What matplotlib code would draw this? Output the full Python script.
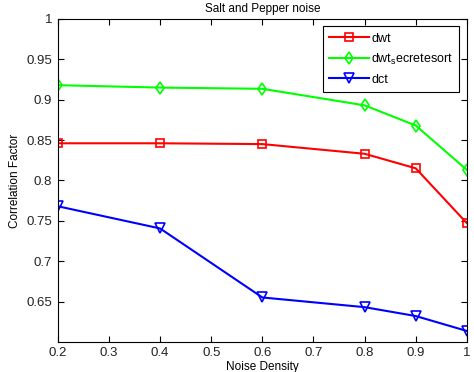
import matplotlib
matplotlib.use('Agg')
import matplotlib.pyplot as plt

noise_density = [0.2, 0.4, 0.6, 0.8, 0.9, 1.0]
dwt = [0.846, 0.846, 0.845, 0.833, 0.815, 0.747]
dwt_secretesort = [0.918, 0.915, 0.9135, 0.893, 0.868, 0.813]
dct = [0.768, 0.7405, 0.655, 0.643, 0.632, 0.6135]

plt.rcParams['font.family'] = ['Liberation Sans', 'DejaVu Sans']
plt.rcParams['mathtext.fontset'] = 'custom'
plt.rcParams['mathtext.rm'] = 'Liberation Sans'
plt.rcParams['mathtext.it'] = 'Liberation Sans'

fig = plt.figure(figsize=(4.74, 3.72), dpi=100)
ax = fig.add_axes([0.122, 0.081, 0.863, 0.868])

ax.plot(noise_density, dwt, color='#ff0000', marker='s', markersize=6,
        markerfacecolor='none', markeredgewidth=1.2, linewidth=1.5, label='dwt')
ax.plot(noise_density, dwt_secretesort, color='#00ff00', marker='d', markersize=6,
        markerfacecolor='none', markeredgewidth=1.2, linewidth=1.5,
        label=r'dwt$_{\mathrm{s}}$ecretesort')
ax.plot(noise_density, dct, color='#0000ff', marker='v', markersize=7,
        markerfacecolor='none', markeredgewidth=1.2, linewidth=1.5, label='dct')

ax.set_xlim(0.2, 1.0)
ax.set_ylim(0.6, 1.0)
ax.set_xticks([0.2, 0.3, 0.4, 0.5, 0.6, 0.7, 0.8, 0.9, 1.0])
ax.set_xticklabels(['0.2', '0.3', '0.4', '0.5', '0.6', '0.7', '0.8', '0.9', '1'])
ax.set_yticks([0.65, 0.7, 0.75, 0.8, 0.85, 0.9, 0.95, 1.0])
ax.set_yticklabels(['0.65', '0.7', '0.75', '0.8', '0.85', '0.9', '0.95', '1'])
ax.tick_params(direction='in', top=True, right=True, labelsize=9.5, length=4, pad=4,
               labelcolor='#222222')
for s in ax.spines.values():
    s.set_linewidth(0.8)

ax.set_title('Salt and Pepper noise', fontsize=8.5, pad=5)
ax.set_xlabel('Noise Density', fontsize=8.5, labelpad=1)
ax.set_ylabel('Correlation Factor', fontsize=8.5, labelpad=4)

leg = ax.legend(loc='upper right', fontsize=9, fancybox=False, framealpha=1,
                edgecolor='black', handlelength=3.2, borderaxespad=0.6,
                labelspacing=0.55, handletextpad=0.2, borderpad=0.5)
leg.get_frame().set_linewidth(0.8)

fig.savefig('out.png', dpi=100)
